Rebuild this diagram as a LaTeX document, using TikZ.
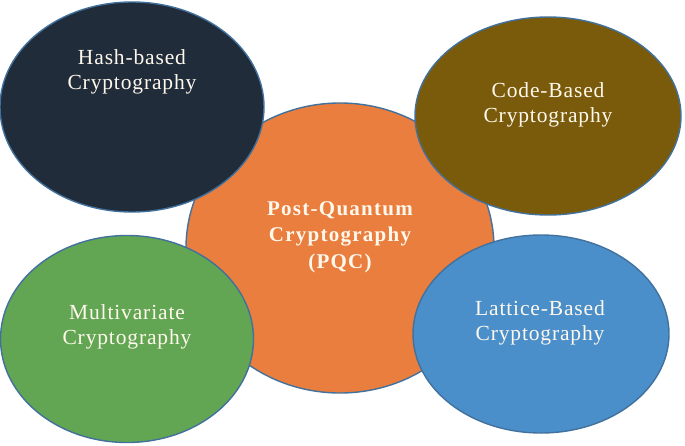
\documentclass[tikz,border=0pt]{standalone}
\usepackage{fontspec}
\setmainfont{Liberation Serif}
\usetikzlibrary{shapes.geometric}
\definecolor{hashc}{HTML}{202C3A}
\definecolor{codec}{HTML}{795B0B}
\definecolor{pqcc}{HTML}{E97E3E}
\definecolor{multc}{HTML}{62A654}
\definecolor{latc}{HTML}{4A8FCA}
\definecolor{edgec}{HTML}{41719C}
\definecolor{txtc}{HTML}{FFF8EC}
\tikzset{
  bubble/.style={ellipse, draw=edgec, line width=1.4pt, inner sep=0pt},
  lbl/.style={text=txtc, align=center, font=\fontsize{21.5}{25.5}\selectfont\addfontfeature{LetterSpace=4}},
  clbl/.style={text=txtc, align=center, font=\fontsize{21}{26.5}\selectfont\bfseries\addfontfeature{LetterSpace=6}}
}
\begin{document}
\begin{tikzpicture}[x=1pt,y=-1pt]
\useasboundingbox (0,0) rectangle (685,445);
\node[bubble, fill=pqcc, minimum width=308pt, minimum height=290pt] (pqc) at (340,248) {};
\node[bubble, fill=hashc, minimum width=264pt, minimum height=210pt] (hash) at (132,107) {};
\node[bubble, fill=codec, minimum width=266pt, minimum height=198pt] (code) at (548,116) {};
\node[bubble, fill=multc, minimum width=253pt, minimum height=207pt] (mult) at (127,339) {};
\node[bubble, fill=latc, minimum width=256pt, minimum height=198pt] (lat) at (541,334) {};
\node[clbl] (pqct) at (340,237) {Post-Quantum\\Cryptography\\(PQC)};
\node[lbl] (hasht) at (132,72) {Hash-based\\Cryptography};
\node[lbl] (codet) at (548,105) {Code-Based\\Cryptography};
\node[lbl] (multt) at (127,327) {Multivariate\\Cryptography};
\node[lbl] (latt) at (540,323) {Lattice-Based\\Cryptography};
\end{tikzpicture}
\end{document}
